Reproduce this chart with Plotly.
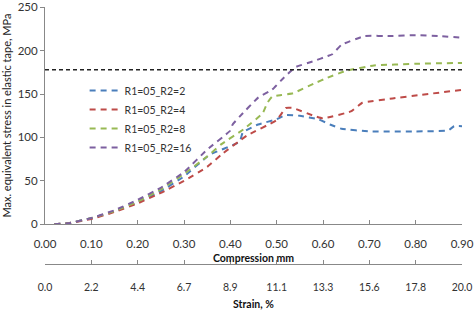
import plotly.graph_objects as go

# Data
x_b = [0.02, 0.05, 0.10, 0.15, 0.20, 0.25, 0.30, 0.355, 0.42, 0.427, 0.46, 0.50, 0.52, 0.55, 0.59, 0.615, 0.64, 0.70, 0.80, 0.87, 0.883, 0.90]
y_b = [0, 1, 7, 15, 25, 38, 55, 80, 95, 106, 115, 121, 126, 125, 121, 115, 110, 107, 107, 108, 113, 113]

x_r = [0.02, 0.05, 0.10, 0.15, 0.20, 0.25, 0.30, 0.35, 0.38, 0.435, 0.50, 0.52, 0.535, 0.58, 0.60, 0.66, 0.685, 0.75, 0.81, 0.90]
y_r = [0, 1, 6, 14, 24, 36, 50, 66, 80, 102, 120, 134, 134, 125, 122, 130, 140, 145, 149, 155]

x_g = [0.02, 0.05, 0.10, 0.15, 0.20, 0.25, 0.30, 0.35, 0.38, 0.43, 0.47, 0.48, 0.49, 0.51, 0.535, 0.58, 0.61, 0.65, 0.71, 0.80, 0.90]
y_g = [0, 1, 7, 15, 26, 40, 58, 78, 92, 110, 128, 140, 147, 149, 151, 162, 169, 177, 183, 185, 186]

x_p = [0.02, 0.05, 0.10, 0.15, 0.20, 0.25, 0.30, 0.35, 0.40, 0.405, 0.42, 0.46, 0.49, 0.51, 0.54, 0.58, 0.61, 0.62, 0.64, 0.69, 0.75, 0.80, 0.85, 0.90]
y_p = [0, 1, 7, 16, 28, 42, 60, 86, 108, 115, 124, 146, 155, 166, 181, 188, 194, 196, 207, 217, 217, 218, 217, 215]

limit_x = [0.0, 0.90]
limit_y = [178, 178]

comp_ticks = [0.0, 0.1, 0.2, 0.3, 0.4, 0.5, 0.6, 0.7, 0.8, 0.9]
comp_labels = ["0.00", "0.10", "0.20", "0.30", "0.40", "0.50", "0.60", "0.70", "0.80", "0.90"]
strain_labels = ["0.0", "2.2", "4.4", "6.7", "8.9", "11.1", "13.3", "15.6", "17.8", "20.0"]
stress_ticks = [0, 50, 100, 150, 200, 250]

names = ["R1=05_R2=2", "R1=05_R2=4", "R1=05_R2=8", "R1=05_R2=16"]
colors = ["#4a7ebb", "#be4b48", "#98b954", "#7d60a0"]

FONT = "Lato"

fig = go.Figure()
for xs, ys, n, c in zip([x_b, x_r, x_g, x_p], [y_b, y_r, y_g, y_p], names, colors):
    fig.add_trace(go.Scatter(x=xs, y=ys, mode="lines", name=n,
                             line=dict(color=c, width=2, dash="6px,5px", shape="spline", smoothing=0.3)))
fig.add_trace(go.Scatter(x=limit_x, y=limit_y, mode="lines", showlegend=False,
                         line=dict(color="#222222", width=1.5, dash="4px,3px")))
# invisible trace to activate secondary x axis
fig.add_trace(go.Scatter(x=[0, 0.9], y=[None, None], xaxis="x2", mode="lines",
                         showlegend=False, hoverinfo="skip"))

axis_col = "#888888"
fig.update_layout(
    width=474, height=310,
    margin=dict(l=45, r=11, t=5, b=0),
    paper_bgcolor="white", plot_bgcolor="white",
    font=dict(family=FONT, size=11, color="#333333"),
    showlegend=True,
    legend=dict(x=0.095, y=0.768, xanchor="left", yanchor="top",
                font=dict(family=FONT, size=10.5, color="#333333"),
                bgcolor="rgba(0,0,0,0)", tracegroupgap=0, itemwidth=30),
    xaxis=dict(range=[0, 0.9], tickvals=comp_ticks, ticktext=comp_labels,
               showgrid=False, zeroline=False, showline=True, linecolor=axis_col,
               ticks="inside", ticklen=4, tickcolor=axis_col, ticklabelstandoff=9,
               ticklabeloverflow="allow",
               tickfont=dict(size=11.5, color="#333333"),
               title=dict(text="<b>Compression mm</b>", font=dict(size=10.5, color="#111111"), standoff=5),
               anchor="y"),
    xaxis2=dict(range=[0, 0.9], tickvals=comp_ticks, ticktext=strain_labels,
                overlaying="x", anchor="free", position=(310 - 269) / 305, side="bottom",
                showgrid=False, zeroline=False, showline=True, linecolor=axis_col,
                ticks="inside", ticklen=4, tickcolor=axis_col, ticklabelstandoff=13,
                ticklabeloverflow="allow",
                tickfont=dict(size=10.5, color="#333333"),
                title=dict(text="<b>Strain, %</b>", font=dict(size=10.5, color="#111111"), standoff=8)),
    yaxis=dict(range=[0, 250.5], domain=[(310 - 228) / 305, 1], tickvals=stress_ticks,
               showgrid=False, zeroline=False, showline=True, linecolor=axis_col,
               ticks="outside", ticklen=4, tickcolor=axis_col, ticklabeloverflow="allow",
               tickfont=dict(size=11.5, color="#333333"),
               title=dict(text="Max. equivalent stress in elastic tape, MPa", font=dict(size=11, color="#222222"), standoff=6)),
)

fig.write_html("out.html")
